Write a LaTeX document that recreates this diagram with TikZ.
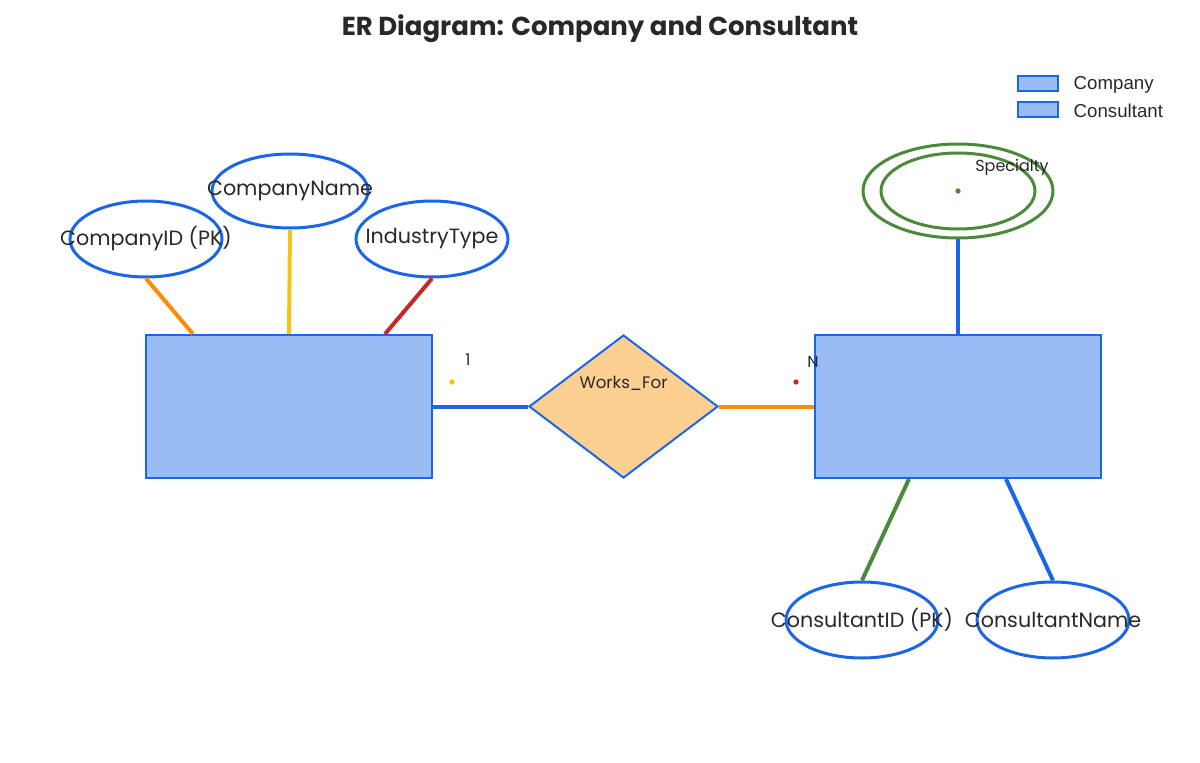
\documentclass[tikz,border=0pt]{standalone}
\usepackage{fontspec}
\setmainfont{Poppins}
\newfontfamily\legendfont{Liberation Sans}
\usetikzlibrary{shapes.geometric,calc}
\definecolor{erblue}{RGB}{26,102,230}
\definecolor{erfill}{RGB}{153,188,245}
\definecolor{erdiam}{RGB}{253,207,144}
\definecolor{erorange}{RGB}{255,140,0}
\definecolor{eryellow}{RGB}{245,195,20}
\definecolor{erred}{RGB}{198,40,40}
\definecolor{ergreen}{RGB}{74,138,58}
\definecolor{ertext}{RGB}{40,40,40}

\begin{document}
\begin{tikzpicture}[x=0.75pt,y=-0.75pt,text=ertext,
  entity/.style={draw=erblue,fill=erfill,line width=1.5pt,minimum width=214.5pt,minimum height=107.25pt,inner sep=0pt},
  attr/.style={ellipse,draw=erblue,line width=2.25pt,minimum width=114pt,minimum height=57pt,inner sep=0pt,
    label={[font=\fontsize{15.5}{19}\selectfont,text=ertext]center:#1}},
  multi/.style={ellipse,draw=ergreen,line width=2.25pt,inner sep=0pt},
  link/.style={line width=3pt},
  legbox/.style={draw=erblue,fill=erfill,line width=1.5pt,minimum width=30pt,minimum height=11.25pt,inner sep=0pt}]
  \useasboundingbox (0,0) rectangle (1200,763);
  \node[font=\bfseries\fontsize{19.5}{24}\selectfont] (title) at (600,29) {ER Diagram: Company and Consultant};
  % legend
  \node[legbox] (legco) at (1038,83.5) {};
  \node[legbox] (legcon) at (1038,109.5) {};
  \node[anchor=west,font=\legendfont\fontsize{14}{16}\selectfont] (legcotext) at (1069,85) {Company};
  \node[anchor=west,font=\legendfont\fontsize{14}{16}\selectfont] (legcontext) at (1069,111) {Consultant};
  % entities and relationship
  \node[entity] (company) at (289,406.5) {};
  \node[entity] (consultant) at (958,406.5) {};
  \node[diamond,draw=erblue,fill=erdiam,line width=1.5pt,minimum width=141.75pt,minimum height=107.25pt,inner sep=0pt,
    label={[yshift=17pt,font=\fontsize{12.5}{15}\selectfont]center:Works\_For}] (works) at (623.5,406.5) {};
  % attributes
  \node[attr=CompanyID (PK)] (cid) at (146,239) {};
  \node[attr=CompanyName,minimum width=117pt,minimum height=55.5pt] (cname) at (290,191) {};
  \node[attr=IndustryType] (itype) at (432,239) {};
  \node[multi,minimum width=142.5pt,minimum height=70.5pt] (specout) at (958,191) {};
  \node[multi,minimum width=115.5pt,minimum height=57pt] (spec) at (958,191) {};
  \node[font=\fontsize{12}{14}\selectfont] (spectext) at (1012,167) {Specialty};
  \fill[ergreen] (spec.center) circle (2pt);
  \node[attr=ConsultantID (PK)] (conid) at (862,620) {};
  \node[attr=ConsultantName] (conname) at (1053,620) {};
  % connectors
  \draw[link,erorange] (cid.south) -- ($(company.north west)+(48,0)$);
  \draw[link,eryellow] (cname.south) -- (company.north);
  \draw[link,erred] (itype.south) -- ($(company.north east)+(-48,0)$);
  \draw[link,erblue] (company.east) -- (works.west);
  \draw[link,erorange] (works.east) -- (consultant.west);
  \draw[link,erblue] (specout.south) -- (consultant.north);
  \draw[link,ergreen] ($(consultant.south west)+(95,0)$) -- (conid.north);
  \draw[link,erblue] ($(consultant.south east)+(-96,0)$) -- (conname.north);
  % cardinalities
  \node[font=\fontsize{12}{14}\selectfont] (one) at (468,360) {1};
  \node[font=\fontsize{12}{14}\selectfont] (many) at (813,362) {N};
  \fill[eryellow] (452,382) circle (2pt);
  \fill[erred] (796,382) circle (2pt);
\end{tikzpicture}
\end{document}
